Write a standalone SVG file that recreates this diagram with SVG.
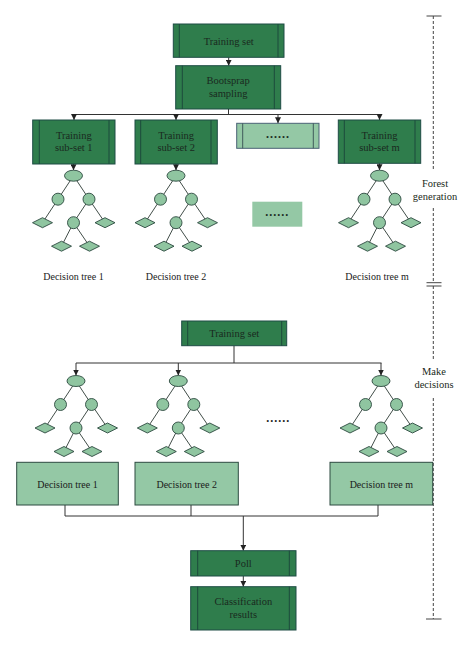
<svg xmlns="http://www.w3.org/2000/svg" width="474" height="647" viewBox="0 0 474 647">
<style>
.dk{fill:#2f7d4c;stroke:#1f4c45;stroke-width:1}
.lt{fill:#94c8a5;stroke:#3f5f5f;stroke-width:1}
.in{stroke:#1d4a3c;stroke-width:1;fill:none}
.t{font-family:"Liberation Serif",serif;font-size:10.5px;fill:#1a2a20;text-anchor:middle}
.tl{font-family:"Liberation Serif",serif;font-size:10px;fill:#1a1a1a;text-anchor:middle}
.dots{font-family:"Liberation Serif",serif;font-size:12px;font-weight:bold;fill:#1a2a20;text-anchor:middle;letter-spacing:1px}
.c{stroke:#333;stroke-width:1;fill:none}
.n{fill:#8fc5a0;stroke:#2c4a40;stroke-width:0.9}
.e{stroke:#2c3a34;stroke-width:0.9}
.dash{stroke:#444;stroke-width:1;stroke-dasharray:3,2;fill:none}
.tick{stroke:#444;stroke-width:1}
</style>
<defs>
<marker id="ar" viewBox="0 0 6 6" refX="6" refY="3" markerWidth="6" markerHeight="6" orient="auto" markerUnits="userSpaceOnUse">
<path d="M0,0 L6,3 L0,6 z" fill="#222"/>
</marker>
<g id="tree">
<line class="e" x1="0" y1="0" x2="-15.5" y2="23.5"/>
<line class="e" x1="0" y1="0" x2="15.5" y2="23.5"/>
<line class="e" x1="-15.5" y1="23.5" x2="-31" y2="47"/>
<line class="e" x1="15.5" y1="23.5" x2="0" y2="47"/>
<line class="e" x1="15.5" y1="23.5" x2="31.5" y2="47"/>
<line class="e" x1="0" y1="47" x2="-12" y2="70.5"/>
<line class="e" x1="0" y1="47" x2="16" y2="70.5"/>
<ellipse class="n" cx="0" cy="0" rx="9" ry="5.5"/>
<circle class="n" cx="-15.5" cy="23.5" r="6"/>
<circle class="n" cx="15.5" cy="23.5" r="6"/>
<circle class="n" cx="0" cy="47" r="6"/>
<path class="n" d="M-41,47 L-31,42 L-21,47 L-31,52 z"/>
<path class="n" d="M21.5,47 L31.5,42 L41.5,47 L31.5,52 z"/>
<path class="n" d="M-22,70.5 L-12,65.5 L-2,70.5 L-12,75.5 z"/>
<path class="n" d="M6,70.5 L16,65.5 L26,70.5 L16,75.5 z"/>
</g>
</defs>

<g id="connectors">
<line class="c" x1="228.7" y1="57.3" x2="228.7" y2="65.7" marker-end="url(#ar)"/>
<polyline class="c" points="228.5,109 228.5,114.5"/>
<line class="c" x1="73.5" y1="114.5" x2="379.5" y2="114.5"/>
<line class="c" x1="74" y1="114.5" x2="74" y2="120" marker-end="url(#ar)"/>
<line class="c" x1="176" y1="114.5" x2="176" y2="120" marker-end="url(#ar)"/>
<line class="c" x1="278" y1="114.5" x2="278" y2="123.3" marker-end="url(#ar)"/>
<line class="c" x1="379.5" y1="114.5" x2="379.5" y2="120" marker-end="url(#ar)"/>
<line class="c" x1="73.5" y1="164" x2="73.5" y2="170.2" marker-end="url(#ar)"/>
<line class="c" x1="176" y1="164" x2="176" y2="170.2" marker-end="url(#ar)"/>
<line class="c" x1="379.5" y1="163.3" x2="379.5" y2="170.2" marker-end="url(#ar)"/>
<polyline class="c" points="234,345.7 234,363"/>
<line class="c" x1="76" y1="363" x2="381.5" y2="363"/>
<line class="c" x1="76" y1="363" x2="76" y2="375.5" marker-end="url(#ar)"/>
<line class="c" x1="178.3" y1="363" x2="178.3" y2="375.5" marker-end="url(#ar)"/>
<line class="c" x1="381" y1="363" x2="381" y2="375.5" marker-end="url(#ar)"/>
<polyline class="c" points="65,505 65,516"/>
<polyline class="c" points="191,505 191,516"/>
<polyline class="c" points="378,505 378,516"/>
<line class="c" x1="65" y1="516" x2="378" y2="516"/>
<line class="c" x1="243.3" y1="516" x2="243.3" y2="550.7" marker-end="url(#ar)"/>
<line class="c" x1="243.3" y1="576" x2="243.3" y2="586.7" marker-end="url(#ar)"/>
</g>

<g id="training-set-1">
<rect class="dk" x="173.3" y="24" width="110.7" height="33.3"/>
<line class="in" x1="179.3" y1="24" x2="179.3" y2="57.3"/>
<line class="in" x1="278" y1="24" x2="278" y2="57.3"/>
<text class="t" x="228.7" y="44.5">Training set</text>
</g>
<g id="bootstrap">
<rect class="dk" x="175.7" y="65.7" width="105" height="43.3"/>
<line class="in" x1="182.3" y1="65.7" x2="182.3" y2="109"/>
<line class="in" x1="274.3" y1="65.7" x2="274.3" y2="109"/>
<text class="t" x="228.2" y="83.5">Bootsprap</text>
<text class="t" x="228.2" y="96.5">sampling</text>
</g>
<g id="subset-1">
<rect class="dk" x="32.7" y="120" width="82.3" height="44"/>
<line class="in" x1="39.3" y1="120" x2="39.3" y2="164"/>
<line class="in" x1="109" y1="120" x2="109" y2="164"/>
<text class="t" x="73.8" y="138.5">Training</text>
<text class="t" x="73.8" y="150.5">sub-set 1</text>
</g>
<g id="subset-2">
<rect class="dk" x="135" y="120" width="82.3" height="44"/>
<line class="in" x1="140.7" y1="120" x2="140.7" y2="164"/>
<line class="in" x1="211" y1="120" x2="211" y2="164"/>
<text class="t" x="176.2" y="138.5">Training</text>
<text class="t" x="176.2" y="150.5">sub-set 2</text>
</g>
<g id="subset-dots">
<rect class="lt" x="236.7" y="123.3" width="82.3" height="25" style="stroke:#4a6275"/>
<line class="in" x1="242.7" y1="123.3" x2="242.7" y2="148.3" style="stroke:#3f5a5a"/>
<line class="in" x1="313.3" y1="123.3" x2="313.3" y2="148.3" style="stroke:#3f5a5a"/>
<text class="dots" x="278" y="138">......</text>
</g>
<g id="subset-m">
<rect class="dk" x="338.3" y="120" width="82.4" height="43.3"/>
<line class="in" x1="344.3" y1="120" x2="344.3" y2="163.3"/>
<line class="in" x1="415" y1="120" x2="415" y2="163.3"/>
<text class="t" x="379.5" y="138.5">Training</text>
<text class="t" x="379.5" y="150.5">sub-set m</text>
</g>

<g id="tree-top-1"><use href="#tree" x="73.5" y="175.7"/></g>
<g id="tree-top-2"><use href="#tree" x="176" y="175.7"/></g>
<g id="tree-top-m"><use href="#tree" x="379.5" y="175.7"/></g>
<g id="dots-mid">
<rect x="252.3" y="201.7" width="50" height="25" fill="#94c8a5"/>
<text class="dots" x="277.3" y="216">......</text>
</g>
<g id="labels-top">
<text class="tl" x="73.5" y="280">Decision tree 1</text>
<text class="tl" x="176" y="280">Decision tree 2</text>
<text class="tl" x="377" y="280">Decision tree m</text>
</g>

<g id="phase-line">
<line class="dash" x1="433.3" y1="16" x2="433.3" y2="170"/>
<line class="dash" x1="433.3" y1="208" x2="433.3" y2="282.7"/>
<line class="dash" x1="433.3" y1="286" x2="433.3" y2="360"/>
<line class="dash" x1="433.3" y1="398" x2="433.3" y2="619"/>
<line class="tick" x1="426.5" y1="16" x2="441.5" y2="16"/>
<line class="tick" x1="426.5" y1="282.7" x2="441.5" y2="282.7"/>
<line class="tick" x1="426.5" y1="286" x2="441.5" y2="286"/>
<line class="tick" x1="426" y1="619" x2="441.5" y2="619"/>
<text class="t" x="435" y="187">Forest</text>
<text class="t" x="435" y="199.5">generation</text>
<text class="t" x="434" y="375">Make</text>
<text class="t" x="434" y="388">decisions</text>
</g>

<g id="training-set-2">
<rect class="dk" x="181.7" y="321" width="105" height="24.7"/>
<line class="in" x1="187.7" y1="321" x2="187.7" y2="345.7"/>
<line class="in" x1="281.7" y1="321" x2="281.7" y2="345.7"/>
<text class="t" x="234.2" y="337">Training set</text>
</g>

<g id="tree-bot-1"><use href="#tree" x="76" y="381"/></g>
<g id="tree-bot-2"><use href="#tree" x="178.3" y="381"/></g>
<g id="tree-bot-m"><use href="#tree" x="381" y="381"/></g>
<g id="dots-bot"><text class="dots" x="278.3" y="421.5" style="fill:#1a1a1a">......</text></g>

<g id="dt-box-1">
<rect class="lt" x="16.7" y="462.3" width="101.6" height="42.7" style="stroke:#2c4a40"/>
<text class="tl" x="67.5" y="487.5">Decision tree 1</text>
</g>
<g id="dt-box-2">
<rect class="lt" x="135" y="462.3" width="103.3" height="42.7" style="stroke:#2c4a40"/>
<text class="tl" x="186.7" y="487.5">Decision tree 2</text>
</g>
<g id="dt-box-m">
<rect class="lt" x="330" y="462.3" width="102.7" height="42.7" style="stroke:#2c4a40"/>
<text class="tl" x="381.3" y="487.5">Decision tree m</text>
</g>

<g id="poll">
<rect class="dk" x="190.7" y="550.7" width="105.3" height="25.3"/>
<line class="in" x1="197.7" y1="550.7" x2="197.7" y2="576"/>
<line class="in" x1="289.3" y1="550.7" x2="289.3" y2="576"/>
<text class="t" x="243.3" y="567">Poll</text>
</g>
<g id="results">
<rect class="dk" x="190.7" y="586.7" width="105.3" height="43.3"/>
<line class="in" x1="197.7" y1="586.7" x2="197.7" y2="630"/>
<line class="in" x1="289.3" y1="586.7" x2="289.3" y2="630"/>
<text class="t" x="243.3" y="604.5">Classification</text>
<text class="t" x="243.3" y="618">results</text>
</g>
</svg>
